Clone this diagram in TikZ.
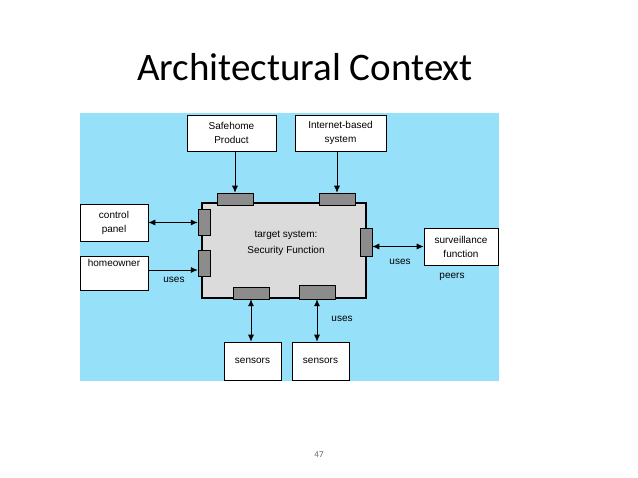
\documentclass[tikz,border=0pt]{standalone}
\usepackage{fontspec}
\setmainfont{Liberation Sans}
\newfontfamily\titlefont{Carlito}
\usetikzlibrary{arrows.meta}
\begin{document}
\begin{tikzpicture}[x=1pt,y=-1pt,
  box/.style={draw=black,fill=white,line width=0.6pt,align=center,font=\fontsize{10}{14}\selectfont,inner sep=0pt},
  port/.style={draw=black,fill=black!45,line width=0.5pt,inner sep=0pt},
  lbl/.style={font=\fontsize{10}{12}\selectfont,inner sep=0pt},
  arr/.style={-{Latex[length=7pt,width=6pt]},line width=0.8pt},
  darr/.style={{Latex[length=7pt,width=6pt]}-{Latex[length=7pt,width=6pt]},line width=0.8pt}]
\useasboundingbox (0,0) rectangle (638,478);
\node[font=\titlefont\fontsize{39}{44}\selectfont] (title) at (305,67) {Architectural Context};
\fill[fill={rgb,255:red,150;green,224;blue,250}] (80,113) rectangle (499,381);
\node[box,minimum width=89pt,minimum height=36pt] (safe) at (231.5,133) {Safehome\\Product};
\node[box,minimum width=91pt,minimum height=36pt] (inet) at (340.5,133) {Internet-based\\system};
\node[box,minimum width=68pt,minimum height=37pt] (cp) at (114,222.5) {control\\panel};
\node[box,minimum width=68pt,minimum height=34pt] (ho) at (114,273) {homeowner\\[6pt]};
\node[box,minimum width=74pt,minimum height=37pt] (surv) at (461,246.5) {surveillance\\function};
\node[box,minimum width=57pt,minimum height=38pt] (s1) at (252.5,361) {sensors};
\node[box,minimum width=57pt,minimum height=38pt] (s2) at (320.5,361) {sensors};
\node[draw=black,fill=black!14,line width=1.2pt,minimum width=164pt,minimum height=95pt,inner sep=0pt] (core) at (284,250.5) {};
\node[lbl,align=center] (ct) at (286,243) {target system:\\[4pt]Security Function};
\node[port,minimum width=36pt,minimum height=12pt] (pt1) at (235,199) {};
\node[port,minimum width=36pt,minimum height=12pt] (pt2) at (337,199) {};
\node[port,minimum width=12pt,minimum height=26pt] (pl1) at (204,222) {};
\node[port,minimum width=12pt,minimum height=26pt] (pl2) at (204,263) {};
\node[port,minimum width=12pt,minimum height=28pt] (pr) at (366,242) {};
\node[port,minimum width=36pt,minimum height=12pt] (pb1) at (251,293) {};
\node[port,minimum width=36pt,minimum height=14pt] (pb2) at (317,292) {};
\draw[arr] (safe.south -| pt1.north) -- (pt1.north);
\draw[arr] (inet.south -| pt2.north) -- (pt2.north);
\draw[darr] (cp.east) -- (cp.east -| pl1.west);
\draw[arr] (148,270) coordinate (hoe) -- (hoe -| pl2.west);
\draw[darr] (pr.east |- surv.west) -- (surv.west);
\draw[darr] (pb1.south) -- (pb1.south |- s1.north);
\draw[darr] (pb2.south) -- (pb2.south |- s2.north);
\node[lbl] (u1) at (174,280) {uses};
\node[lbl] (u2) at (400,262) {uses};
\node[lbl] (pe) at (452,277) {peers};
\node[lbl] (u3) at (342,319) {uses};
\node[font=\titlefont\fontsize{9}{10}\selectfont,text=black!60] (pg) at (319,455) {47};
\end{tikzpicture}
\end{document}
